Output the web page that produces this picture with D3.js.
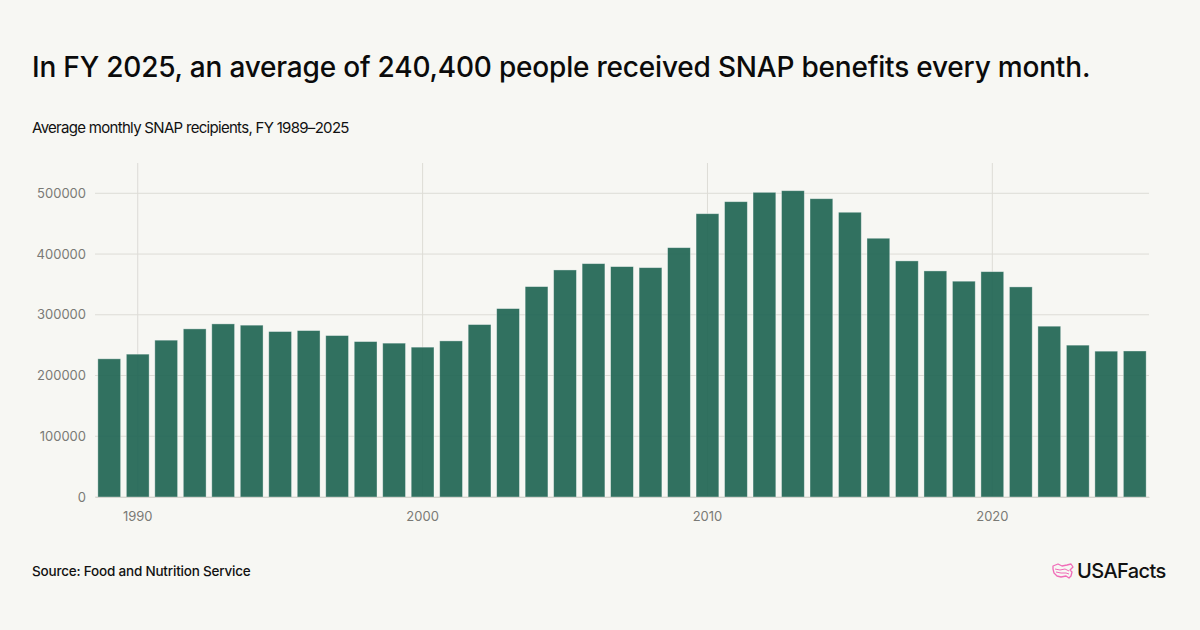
<!DOCTYPE html>
<html>
<head>
<meta charset="utf-8">
<script src="https://cdn.jsdelivr.net/npm/d3@7"></script>
<style>
  html, body { margin: 0; padding: 0; background: #f7f7f3; }
  svg { display: block; font-family: Inter, "Noto Sans", sans-serif; }
</style>
</head>
<body>
<script>
// data
const years = d3.range(1989, 2026);
const recipients = [
  227500, 235200, 258200, 276800, 285000, 282900, 272400, 274000, 265800,
  255900, 253300, 246700, 257000, 283900, 310200, 346400, 373800, 384200,
  379300, 377600, 410500, 466400, 486200, 501600, 504300, 491100, 468800,
  426000, 388700, 372200, 355300, 371000, 345900, 281200, 250000, 240100,
  240400
];
const yTicks = [0, 100000, 200000, 300000, 400000, 500000];
const xTicks = [1990, 2000, 2010, 2020];

const title = "In FY 2025, an average of 240,400 people received SNAP benefits every month.";
const subtitle = "Average monthly SNAP recipients, FY 1989\u20132025";
const source = "Source: Food and Nutrition Service";

const W = 1200, H = 630;
const plot = { left: 95, right: 1149, top: 163, bottom: 497 };

const svg = d3.select("body")
  .append("svg")
  .attr("width", W)
  .attr("height", H);

svg.append("rect").attr("width", W).attr("height", H).attr("fill", "#f7f7f3");

const x = d3.scaleBand(years, [plot.left, plot.right])
  .paddingInner(0.2)
  .paddingOuter(0.1);
const y = d3.scaleLinear([0, 500000], [plot.bottom, 193.3]);

// grid
const grid = svg.append("g");
grid.selectAll(".hgrid")
  .data(yTicks)
  .join("line")
  .attr("x1", plot.left)
  .attr("x2", plot.right)
  .attr("y1", (d) => y(d))
  .attr("y2", (d) => y(d))
  .attr("stroke", "#dddcd6")
  .attr("stroke-width", 1);
grid.selectAll(".vgrid")
  .data(xTicks)
  .join("line")
  .attr("x1", (d) => x(d) + x.bandwidth() / 2)
  .attr("x2", (d) => x(d) + x.bandwidth() / 2)
  .attr("y1", plot.top)
  .attr("y2", plot.bottom)
  .attr("stroke", "#dddcd6")
  .attr("stroke-width", 1);

// bars
svg.append("g")
  .selectAll("rect")
  .data(years)
  .join("rect")
  .attr("x", (d) => x(d))
  .attr("y", (d, i) => y(recipients[i]))
  .attr("width", x.bandwidth())
  .attr("height", (d, i) => y(0) - y(recipients[i]))
  .attr("fill", "#1f6554")
  .attr("fill-opacity", 0.92)
  .attr("stroke", "#ffffff")
  .attr("stroke-opacity", 0.45)
  .attr("stroke-width", 0.8);

// axes
const yAxis = svg.append("g")
  .attr("transform", `translate(${plot.left},0)`)
  .call(d3.axisLeft(y).tickValues(yTicks).tickSize(0).tickPadding(9).tickFormat(d3.format("d")));
yAxis.select(".domain").remove();
yAxis.selectAll("text")
  .attr("font-size", 13)
  .attr("fill", "#7a7a76")
  .attr("font-family", "Inter, sans-serif");

const xAxis = svg.append("g")
  .attr("transform", `translate(0,${plot.bottom})`)
  .call(d3.axisBottom(x).tickValues(xTicks).tickSize(0).tickPadding(15));
xAxis.select(".domain").attr("stroke", "#d6d5cf");
xAxis.selectAll("text")
  .attr("font-size", 13)
  .attr("fill", "#7a7a76")
  .attr("font-family", "Inter, sans-serif");

// texts
svg.append("text")
  .attr("x", 32)
  .attr("y", 77)
  .attr("font-size", 28)
  .attr("font-weight", 500)
  .attr("fill", "#0b0b0b")
  .attr("letter-spacing", -0.2)
  .text(title);

svg.append("text")
  .attr("x", 32)
  .attr("y", 133)
  .attr("font-size", 15)
  .attr("fill", "#111")
  .attr("letter-spacing", -0.7)
  .text(subtitle);

svg.append("text")
  .attr("x", 32)
  .attr("y", 576)
  .attr("font-size", 13.5)
  .attr("font-weight", 500)
  .attr("fill", "#111")
  .attr("letter-spacing", -0.2)
  .text(source);

// logo
const logo = svg.append("g").attr("transform", "translate(1052,563)");
logo.append("path")
  .attr("d", "M1,3 L6,1 L10,3 L15,2 L19,1 L21,4 L18,7 L20,9 L19,13 L17,15 L14,13 L9,14 L5,13 L2,10 L1,6 Z")
  .attr("fill", "none")
  .attr("stroke", "#f06cb8")
  .attr("stroke-width", 1.3)
  .attr("stroke-linejoin", "round");
logo.append("path")
  .attr("d", "M3,6 L8,7 L13,6 L17,8 M4,9 L9,10 L14,10 L17,11")
  .attr("fill", "none")
  .attr("stroke", "#f06cb8")
  .attr("stroke-width", 1);
svg.append("text")
  .attr("x", 1077)
  .attr("y", 578)
  .attr("font-size", 20)
  .attr("font-weight", 500)
  .attr("fill", "#111")
  .attr("letter-spacing", -0.6)
  .text("USAFacts");
</script>
</body>
</html>
